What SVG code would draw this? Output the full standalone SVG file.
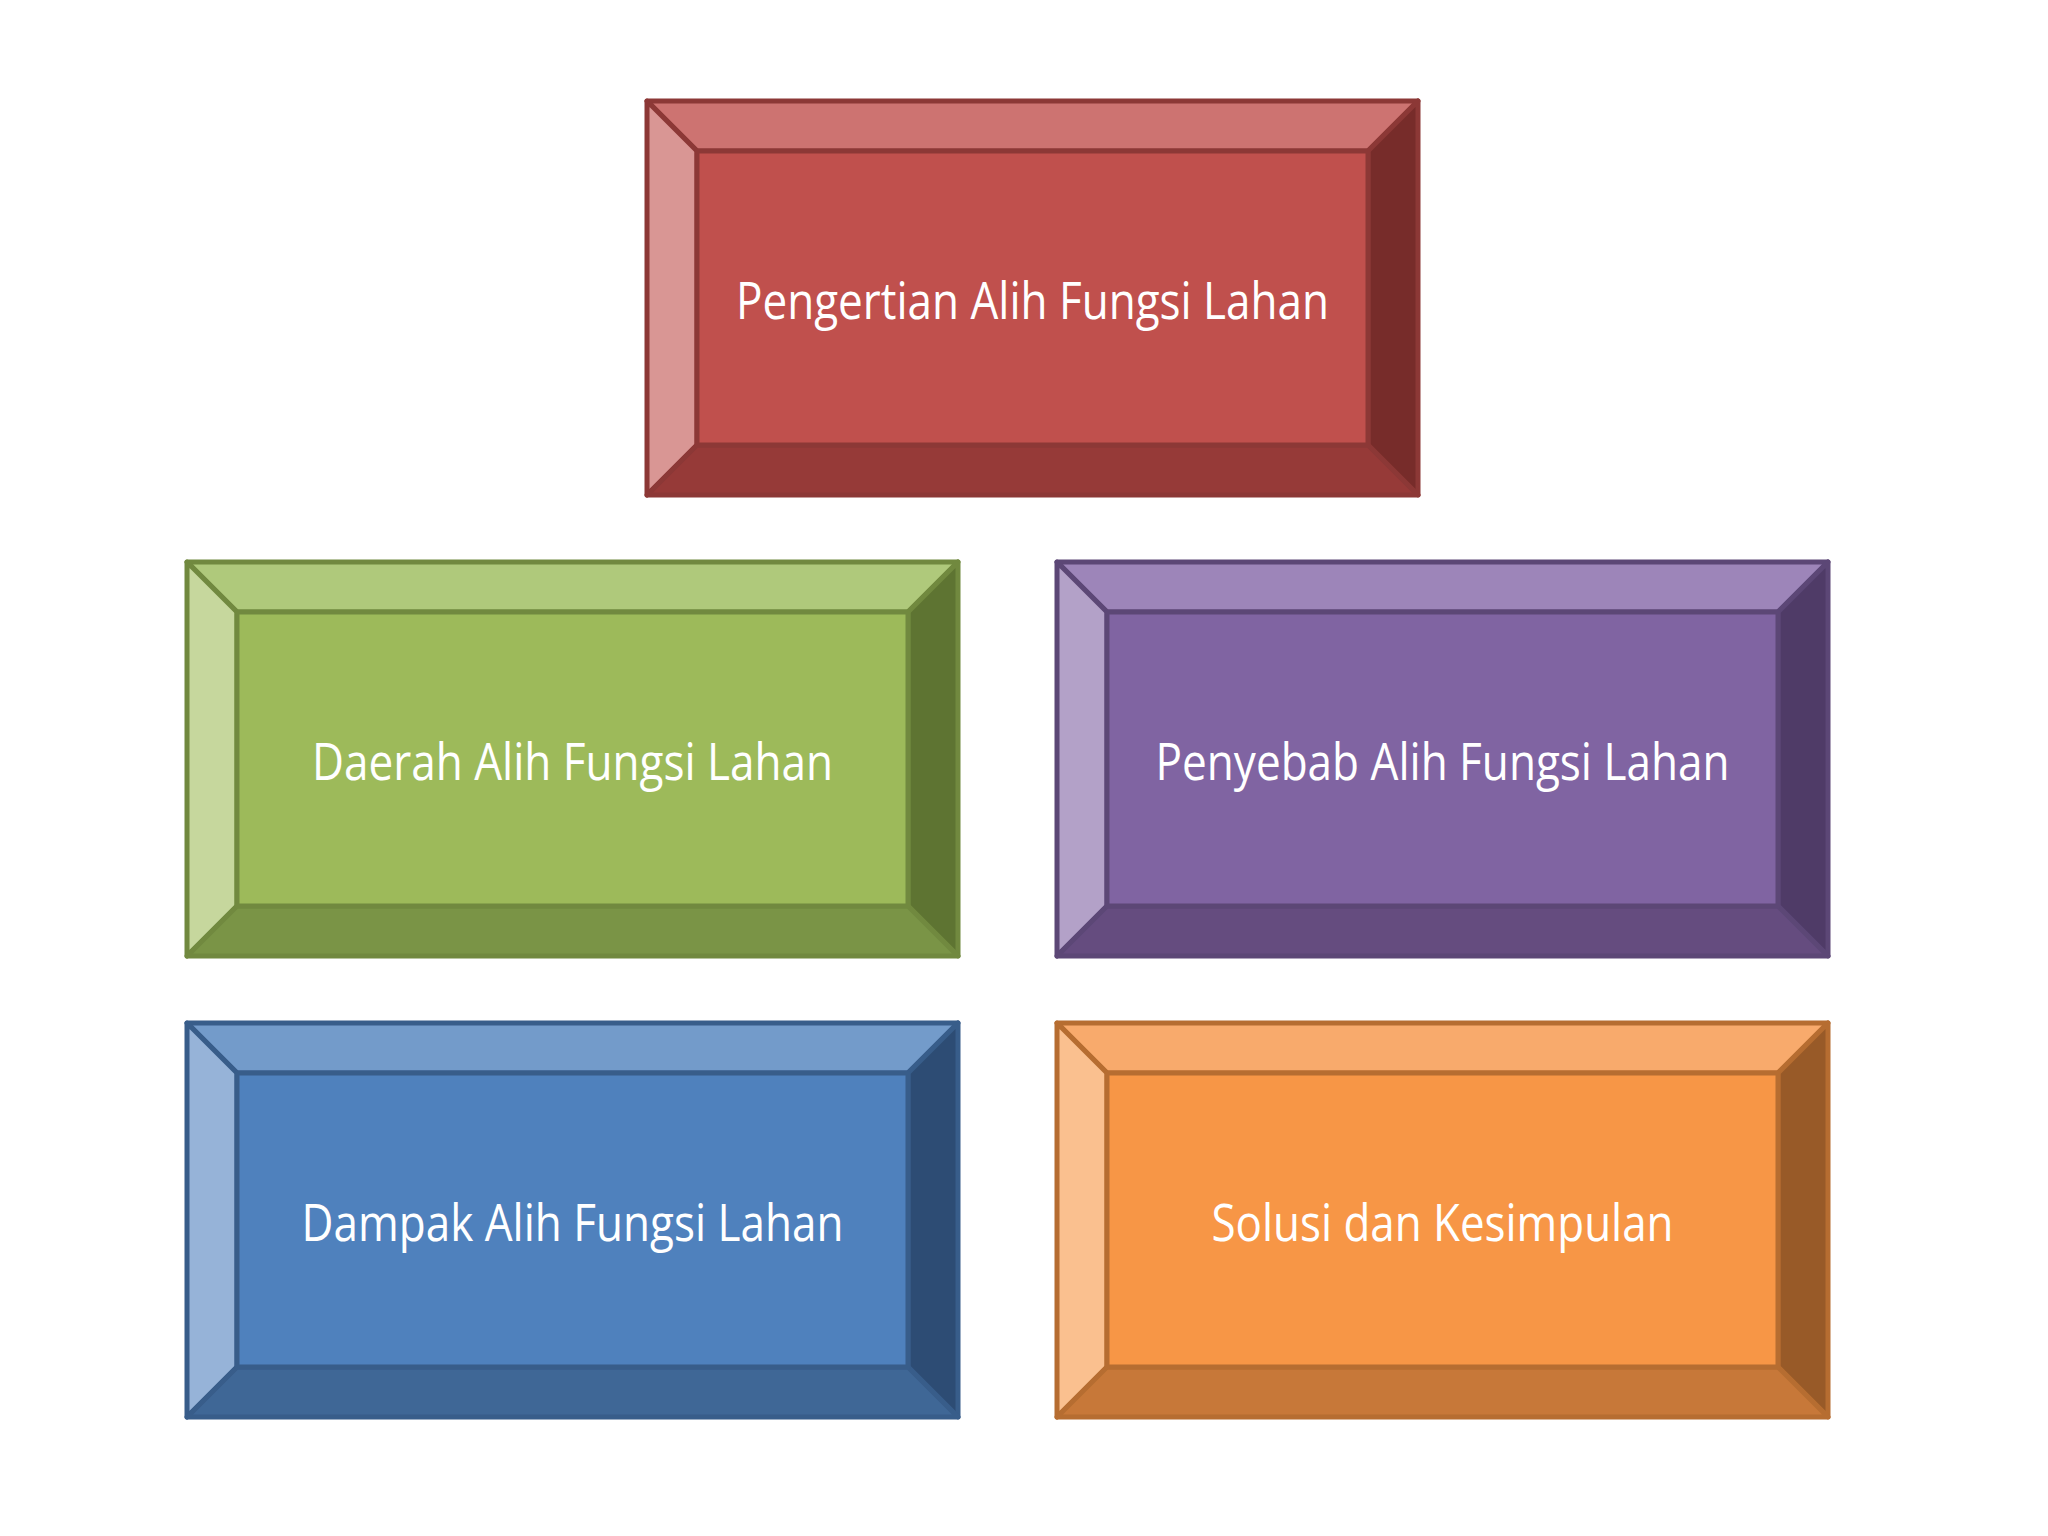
<svg xmlns="http://www.w3.org/2000/svg" width="2048" height="1536" viewBox="0 0 2048 1536">
<style>
.b polygon, .b rect { stroke-width: 5; stroke-linejoin: round; }
.t { font-family: "Open Sans", "Liberation Sans", sans-serif; font-size: 52px; fill: #ffffff; text-anchor: middle; }
.red polygon, .red rect { stroke: #8C3836; }
.red .tp { fill: #CD7371; } .red .lf { fill: #D99694; } .red .rt { fill: #772C2A; } .red .bt { fill: #963A38; } .red .fc { fill: #C0504D; }
.grn polygon, .grn rect { stroke: #71893F; }
.grn .tp { fill: #AFC97B; } .grn .lf { fill: #C6D79D; } .grn .rt { fill: #5E7432; } .grn .bt { fill: #7A9446; } .grn .fc { fill: #9DBA5A; }
.pur polygon, .pur rect { stroke: #5C4776; }
.pur .tp { fill: #9D85B9; } .pur .lf { fill: #B3A1C8; } .pur .rt { fill: #4F3B67; } .pur .bt { fill: #654C7F; } .pur .fc { fill: #8064A2; }
.blu polygon, .blu rect { stroke: #385D8A; }
.blu .tp { fill: #739BCA; } .blu .lf { fill: #96B3D8; } .blu .rt { fill: #2D4C74; } .blu .bt { fill: #3F6796; } .blu .fc { fill: #4F81BD; }
.org polygon, .org rect { stroke: #B66D31; }
.org .tp { fill: #F8AA6C; } .org .lf { fill: #FAC08F; } .org .rt { fill: #985A28; } .org .bt { fill: #C77839; } .org .fc { fill: #F79646; }
</style>
<rect width="2048" height="1536" fill="#ffffff"/>
<g id="connectors"/>
<g id="node-pengertian" class="b red" transform="translate(647,101)">
<polygon class="tp" points="0,0 771,0 721,50 50,50"/>
<polygon class="lf" points="0,0 50,50 50,344 0,394"/>
<polygon class="rt" points="771,0 771,394 721,344 721,50"/>
<polygon class="bt" points="0,394 50,344 721,344 771,394"/>
<rect class="fc" x="50" y="50" width="671" height="294"/>
<text class="t" x="385.5" y="218" textLength="593" lengthAdjust="spacingAndGlyphs">Pengertian Alih Fungsi Lahan</text>
</g>
<g id="node-daerah" class="b grn" transform="translate(187,562)">
<polygon class="tp" points="0,0 771,0 721,50 50,50"/>
<polygon class="lf" points="0,0 50,50 50,344 0,394"/>
<polygon class="rt" points="771,0 771,394 721,344 721,50"/>
<polygon class="bt" points="0,394 50,344 721,344 771,394"/>
<rect class="fc" x="50" y="50" width="671" height="294"/>
<text class="t" x="385.5" y="218" textLength="521" lengthAdjust="spacingAndGlyphs">Daerah Alih Fungsi Lahan</text>
</g>
<g id="node-penyebab" class="b pur" transform="translate(1057,562)">
<polygon class="tp" points="0,0 771,0 721,50 50,50"/>
<polygon class="lf" points="0,0 50,50 50,344 0,394"/>
<polygon class="rt" points="771,0 771,394 721,344 721,50"/>
<polygon class="bt" points="0,394 50,344 721,344 771,394"/>
<rect class="fc" x="50" y="50" width="671" height="294"/>
<text class="t" x="385.5" y="218" textLength="574" lengthAdjust="spacingAndGlyphs">Penyebab Alih Fungsi Lahan</text>
</g>
<g id="node-dampak" class="b blu" transform="translate(187,1023)">
<polygon class="tp" points="0,0 771,0 721,50 50,50"/>
<polygon class="lf" points="0,0 50,50 50,344 0,394"/>
<polygon class="rt" points="771,0 771,394 721,344 721,50"/>
<polygon class="bt" points="0,394 50,344 721,344 771,394"/>
<rect class="fc" x="50" y="50" width="671" height="294"/>
<text class="t" x="385.5" y="218" textLength="542" lengthAdjust="spacingAndGlyphs">Dampak Alih Fungsi Lahan</text>
</g>
<g id="node-solusi" class="b org" transform="translate(1057,1023)">
<polygon class="tp" points="0,0 771,0 721,50 50,50"/>
<polygon class="lf" points="0,0 50,50 50,344 0,394"/>
<polygon class="rt" points="771,0 771,394 721,344 721,50"/>
<polygon class="bt" points="0,394 50,344 721,344 771,394"/>
<rect class="fc" x="50" y="50" width="671" height="294"/>
<text class="t" x="385.5" y="218" textLength="462" lengthAdjust="spacingAndGlyphs">Solusi dan Kesimpulan</text>
</g>
</svg>
